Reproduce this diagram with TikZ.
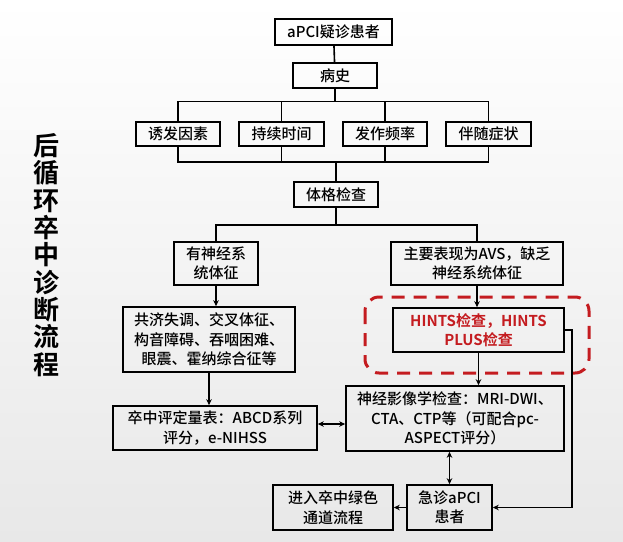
\documentclass[tikz,border=0pt]{standalone}
\usepackage{fontspec}
\setmainfont{Noto Sans CJK SC}[UprightFont=* Medium, BoldFont=* Bold]
\usetikzlibrary{arrows.meta}
\definecolor{hintred}{RGB}{196,28,32}
\tikzset{
  box/.style={draw, line width=1.6pt, inner sep=1pt, align=center,
    font=\fontsize{15}{19.5}\selectfont},
  link/.style={line width=1.6pt},
  arr/.style={line width=1.6pt, -{Stealth[length=6pt,width=5.5pt]}},
  darr/.style={line width=1.6pt, {Stealth[length=6pt,width=5.5pt]}-{Stealth[length=6pt,width=5.5pt]}}
}
\begin{document}
\begin{tikzpicture}[x=1pt,y=-1pt]
  \shade[top color=white, bottom color=black!9] (0,0) rectangle (623,541);
  \useasboundingbox (0,0) rectangle (623,541);
  % title
  \node[align=center, font=\fontsize{26}{27.3}\selectfont\bfseries] (title) at (46.5,255)
    {后\\循\\环\\卒\\中\\诊\\断\\流\\程};
  % top part
  \node[box, minimum width=117pt, minimum height=26pt] (pat) at (333.5,32) {aPCI疑诊患者};
  \node[box, minimum width=84pt, minimum height=25pt] (hist) at (335,75.5) {病史};
  \node[box, minimum width=84pt, minimum height=24pt] (f1) at (178,134) {诱发因素};
  \node[box, minimum width=85pt, minimum height=24pt] (f2) at (281.5,134) {持续时间};
  \node[box, minimum width=84pt, minimum height=24pt] (f3) at (385,134) {发作频率};
  \node[box, minimum width=85pt, minimum height=24pt] (f4) at (488.5,134) {伴随症状};
  \node[box, minimum width=84pt, minimum height=25pt] (exam) at (336,194.5) {体格检查};
  % two branches
  \node[box, minimum width=84pt, minimum height=43pt] (neuro) at (216,263.5) {有神经系\\统体征};
  \node[box, minimum width=172pt, minimum height=43pt] (avs) at (477,263.5) {主要表现为AVS，缺乏\\神经系统体征};
  \node[box, minimum width=172pt, minimum height=65pt] (sign) at (209,339.5)
    {共济失调、交叉体征、\\构音障碍、吞咽困难、\\眼震、霍纳综合征等};
  \node[box, minimum width=171pt, minimum height=44pt, text=hintred, font=\fontsize{15}{19.5}\selectfont\bfseries] (hints) at (478.5,330)
    {HINTS检查，HINTS\\PLUS检查};
  \node[box, minimum width=204pt, minimum height=44pt] (score) at (215,428)
    {卒中评定量表：ABCD系列\\评分，e-NIHSS};
  \node[box, minimum width=218pt, minimum height=65pt] (img) at (455,418.5)
    {神经影像学检查：MRI-DWI、\\CTA、CTP等（可配合pc-\\ASPECT评分）};
  \node[box, minimum width=85pt, minimum height=45pt] (er) at (449.5,507.5) {急诊aPCI\\患者};
  \node[box, minimum width=120pt, minimum height=45pt] (green) at (333,507.5) {进入卒中绿色\\通道流程};
  % red frame
  \draw[hintred, line width=3pt, rounded corners=14pt, dash pattern=on 13pt off 9pt]
    (365,297) rectangle (589,373);
  % connectors
  \draw[link] (pat) -- (hist);
  \draw[link] (hist.south) -- ++(0,12.5) coordinate (bus1);
  \draw[link] (f1.north) |- (bus1) -| (f4.north);
  \draw[link] (f2.north) -- (f2.north |- bus1);
  \draw[link] (f3.north) -- (f3.north |- bus1);
  \draw[link] (exam.north) -- ++(0,-19.5) coordinate (bus2);
  \draw[link] (f1.south) |- (bus2) -| (f4.south);
  \draw[link] (f2.south) -- (f2.south |- bus2);
  \draw[link] (f3.south) -- (f3.south |- bus2);
  \draw[link] (exam.south) -- ++(0,17) coordinate (bus3);
  \draw[link] (neuro.north) |- (bus3) -| (avs.north);
  \draw[arr] (neuro) -- (neuro.south |- sign.north);
  \draw[arr] (avs) -- (avs.south |- hints.north);
  \draw[arr] (hints.south) -- (hints.south |- img.north);
  \draw[arr] (sign.south) -- (sign.south |- score.north);
  \draw[darr] ([yshift=4pt]score.east) -- ([yshift=4pt]score.east -| img.west);
  \draw[darr] (er.north |- img.south) -- (er.north);
  \draw[arr] (er) -- (green);
  \draw[arr] (hints.east) -- ++(7,0) |- (er.east);
\end{tikzpicture}
\end{document}
